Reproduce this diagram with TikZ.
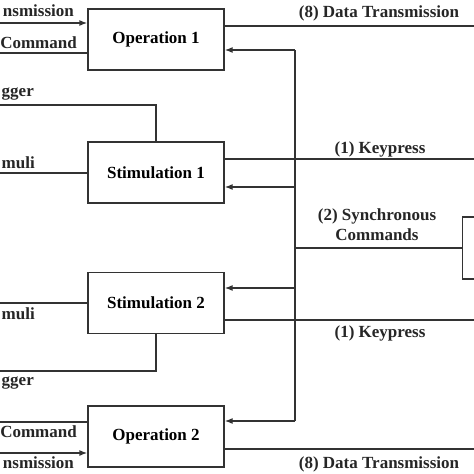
\documentclass[tikz,border=0pt]{standalone}
\usepackage{fontspec}
\setmainfont{Liberation Serif}
\usetikzlibrary{arrows.meta}
\begin{document}
\begin{tikzpicture}[x=1pt,y=-1pt,
  wire/.style={draw=black!80, line width=1.3pt},
  arr/.style={wire, -{Latex[length=8pt,width=6pt]}},
  blk/.style={draw=black!80, line width=1.3pt, fill=white, minimum width=136pt, minimum height=61pt, inner sep=0pt, font=\fontsize{17}{19}\selectfont\bfseries},
  lbl/.style={inner sep=0pt, font=\fontsize{17}{19}\selectfont\bfseries, text=black!85}]
\useasboundingbox (0,0) rectangle (474,474);
\clip (0,0) rectangle (474,474);
\fill[white] (0,0) rectangle (474,474);
% blocks
\node[blk] (op1) at (156,39.5) {Operation 1};
\node[blk] (st1) at (156,172.5) {Stimulation 1};
\node[blk] (st2) at (156,303) {Stimulation 2};
\node[blk] (op2) at (156,436.5) {Operation 2};
\node[blk, minimum width=80pt, minimum height=62pt, anchor=west] (rb) at (462,248) {};
% coordinates
\coordinate (l1) at (0,23);
\coordinate (l2) at (0,53);
\coordinate (r1) at (474,26);
\coordinate (bt) at (295,50);
\coordinate (bb) at (295,421);
\coordinate (t1) at (0,105);
\coordinate (s1) at (0,173);
\coordinate (k1) at (474,159);
\coordinate (s2) at (0,303);
\coordinate (k2) at (474,320);
\coordinate (t2) at (0,371);
\coordinate (l3) at (0,422);
\coordinate (l4) at (0,453);
\coordinate (r2) at (474,449);
% Operation 1
\draw[arr] (l1) -- (l1 -| op1.west);
\draw[wire] (l2) -- (l2 -| op1.west);
\draw[wire] (op1.east |- r1) -- (r1);
\draw[arr] (bt) -- (bt -| op1.east);
% bus
\draw[wire] (bt) -- (bb);
% Stimulation 1
\draw[wire] (t1) -| (st1.north);
\draw[wire] (s1) -- (s1 -| st1.west);
\draw[wire] (st1.east |- k1) -- (k1);
\draw[arr] (295,187) -- (st1.east |- 0,187);
% sync
\draw[wire] (295,248) -- (rb.west);
% Stimulation 2
\draw[arr] (295,288) -- (st2.east |- 0,288);
\draw[wire] (st2.east |- k2) -- (k2);
\draw[wire] (s2) -- (s2 -| st2.west);
\draw[wire] (st2.south) |- (t2);
% Operation 2
\draw[arr] (bb) -- (bb -| op2.east);
\draw[wire] (l3) -- (l3 -| op2.west);
\draw[arr] (l4) -- (l4 -| op2.west);
\draw[wire] (op2.east |- r2) -- (r2);
% labels (left ones as far as the picture shows them)
\node[lbl, anchor=east] (a1) at (74,11) {nsmission};
\node[lbl, anchor=east] (a2) at (77,43) {Command};
\node[lbl, anchor=east] (a3) at (34,94) {gger};
\node[lbl, anchor=east] (a4) at (35,163) {muli};
\node[lbl, anchor=east] (a5) at (35,314) {muli};
\node[lbl, anchor=east] (a6) at (34,383) {gger};
\node[lbl, anchor=east] (a7) at (77,432) {Command};
\node[lbl, anchor=east] (a8) at (74,463) {nsmission};
\node[lbl] (b1) at (379,13) {(8) Data Transmission};
\node[lbl] (b2) at (380,149) {(1) Keypress};
\node[lbl] (b3) at (377,216) {(2) Synchronous};
\node[lbl] (b4) at (377,235) {Commands};
\node[lbl] (b5) at (380,333) {(1) Keypress};
\node[lbl] (b6) at (379,464) {(8) Data Transmission};
\end{tikzpicture}
\end{document}
